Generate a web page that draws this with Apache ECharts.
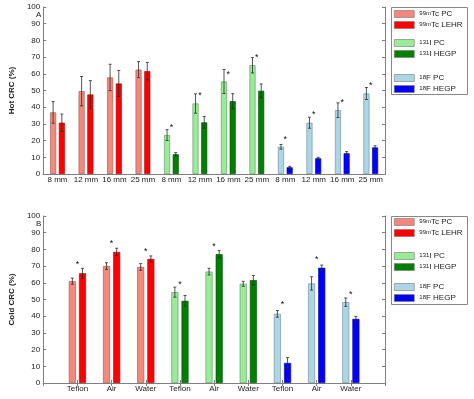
<!DOCTYPE html>
<html>
<head>
<meta charset="utf-8">
<script src="https://cdn.jsdelivr.net/npm/echarts@6/dist/echarts.min.js"></script>
<style>
  html, body { margin: 0; padding: 0; background: #fff; }
  #chart { width: 474px; height: 399px; }
</style>
</head>
<body>
<div id="chart"></div>
<script>
// categories
const hotCats = ['8 mm', '12 mm', '16 mm', '25 mm', '8 mm', '12 mm', '16 mm', '25 mm', '8 mm', '12 mm', '16 mm', '25 mm'];
const coldCats = ['', 'Teflon', 'Air', 'Water', 'Teflon', 'Air', 'Water', 'Teflon', 'Air', 'Water', ''];

// Hot CRC (%) - 8, 12, 16, 25 mm
const hotTcPC = [36.9, 49.6, 57.8, 62.5];
const hotTcPCErr = [6.5, 8.8, 7.9, 4.8];
const hotTcLEHR = [30.7, 47.6, 54.2, 61.6];
const hotTcLEHRErr = [5.2, 8.3, 7.8, 5.2];
const hotIPC = [23.3, 42.2, 55.4, 65.1];
const hotIPCErr = [3.2, 5.8, 7.2, 4.6];
const hotIHEGP = [11.8, 30.9, 43.6, 49.8];
const hotIHEGPErr = [1, 3.5, 4.5, 4.1];
const hotFPC = [16.3, 30.7, 38.2, 48.2];
const hotFPCErr = [1.4, 3.3, 4.4, 3.6];
const hotFHEGP = [4, 9.4, 12.4, 15.9];
const hotFHEGPErr = [0.6, 0.6, 1, 1];
const hotStars = [null, null, null, null, 29, 48, 61, 71, 22, 37, 44, 54];

// Cold CRC (%) - Teflon, Air, Water
const coldTcPC = [61, 70, 69.5];
const coldTcPCErr = [1.8, 2, 2];
const coldTcLEHR = [65.7, 78.5, 74.3];
const coldTcLEHRErr = [3, 2.2, 1.8];
const coldIPC = [54.4, 66.7, 59.4];
const coldIPCErr = [3, 2, 1.5];
const coldIHEGP = [49.2, 77.1, 61.6];
const coldIHEGPErr = [3.2, 2.2, 2.8];
const coldFPC = [41.4, 59.6, 48.4];
const coldFPCErr = [2, 4, 2.5];
const coldFHEGP = [12, 69, 38.4];
const coldFHEGPErr = [3.2, 1.6, 1.5];
const coldStars = [72, 85, 80, 60, 83, null, 48, 75, 54];

const yMin = 0, yMax = 100, yStep = 10;

const COL = {
  tcPC: '#f7877a', tcHi: '#ff0000',
  iPC: '#98ec98', iHi: '#007f00',
  fPC: '#acd6e4', fHi: '#0000ff'
};
const FONT = 'Liberation Sans';

function spread(vals, start, total) {
  const out = new Array(total).fill(null);
  vals.forEach((v, i) => { out[start + i] = v; });
  return out;
}
function errData(vals, errs, start) {
  return vals.map((v, i) => [start + i, v, errs[i]]);
}
function starData(vals, start) {
  return vals.map((v, i) => [start + i, v]).filter(d => d[1] != null);
}

function errRender(dx) {
  return function (params, api) {
    const c = api.value(0), v = api.value(1), e = api.value(2);
    const x = api.coord([c, v])[0] + dx;
    const y1 = api.coord([c, v - e])[1];
    const y2 = api.coord([c, v + e])[1];
    const st = { stroke: '#2a2a2a', lineWidth: 0.8 };
    return {
      type: 'group',
      children: [
        { type: 'line', shape: { x1: x, y1: y1, x2: x, y2: y2 }, style: st },
        { type: 'line', shape: { x1: x - 1.5, y1: y1, x2: x + 1.5, y2: y1 }, style: st },
        { type: 'line', shape: { x1: x - 1.5, y1: y2, x2: x + 1.5, y2: y2 }, style: st }
      ]
    };
  };
}
function starRender(params, api) {
  const p = api.coord([api.value(0), api.value(1)]);
  return {
    type: 'text',
    style: { text: '*', x: p[0], y: p[1] + 2, fontSize: 9, fill: '#111', align: 'center', verticalAlign: 'middle', fontFamily: FONT }
  };
}

const axisGrey = '#808080';
function xAxes(grid, data, gap) {
  const common = {
    type: 'category', gridIndex: grid, data: data, boundaryGap: gap,
    axisLine: { lineStyle: { color: axisGrey, width: 1 } },
    axisTick: { inside: true, length: 3, alignWithLabel: true, interval: 0, lineStyle: { color: axisGrey } }
  };
  return [
    Object.assign({}, common, {
      position: 'bottom',
      axisLabel: { interval: 0, fontSize: 8, color: '#222', margin: 2, fontFamily: FONT }
    }),
    Object.assign({}, common, { position: 'top', axisLabel: { show: false } })
  ];
}
function yAxes(grid, name) {
  const common = {
    type: 'value', gridIndex: grid, min: yMin, max: yMax, interval: yStep,
    splitLine: { show: false },
    axisLine: { show: true, lineStyle: { color: axisGrey, width: 1 } },
    axisTick: { show: true, inside: true, length: 3, lineStyle: { color: axisGrey } }
  };
  return [
    Object.assign({}, common, {
      position: 'left', name: name, nameLocation: 'middle', nameGap: 21,
      nameTextStyle: { fontSize: 8, fontWeight: 'bold', color: '#222', fontFamily: FONT },
      axisLabel: { fontSize: 8, color: '#222', margin: 3, fontFamily: FONT }
    }),
    Object.assign({}, common, { position: 'right', axisLabel: { show: false } })
  ];
}

function bar(name, data, stack, color, xi, yi, w, border) {
  return {
    name: name, type: 'bar', stack: stack, data: data, xAxisIndex: xi, yAxisIndex: yi,
    barWidth: w, barGap: '45%',
    itemStyle: { color: color, borderColor: border, borderWidth: 0.6 },
    z: 2
  };
}
function errSeries(data, dx, xi, yi) {
  return { type: 'custom', data: data, xAxisIndex: xi, yAxisIndex: yi, renderItem: errRender(dx), z: 5, silent: true };
}
function starSeries(data, xi, yi) {
  return { type: 'custom', data: data, xAxisIndex: xi, yAxisIndex: yi, renderItem: starRender, z: 6, silent: true };
}

const names = ['99mTc PC', '99mTc LEHR', '131I PC', '131I HEGP', '18F PC', '18F HEGP'];

function legend(pair, top) {
  return {
    data: pair, orient: 'vertical', left: 394, top: top,
    itemWidth: 20, itemHeight: 7, itemGap: 3, icon: 'rect', selectedMode: false,
    padding: 0,
    itemStyle: { borderColor: '#777', borderWidth: 0.6 },
    formatter: n => {
      const m = n.match(/^(\d+m?)(.*)$/);
      return '{s|' + m[1] + '}{t|' + m[2] + '}';
    },
    textStyle: {
      rich: {
        s: { fontSize: 6, lineHeight: 8, verticalAlign: 'top', color: '#222', fontFamily: FONT },
        t: { fontSize: 8, lineHeight: 8, color: '#222', fontFamily: FONT }
      }
    }
  };
}

const bwH = 6, bwC = 7;
const dxH = (bwH * 1.45) / 2, dxC = (bwC * 1.45) / 2;

const option = {
  animation: false,
  grid: [
    { left: 34, top: 7, width: 351, height: 167 },
    { left: 34, top: 216, width: 351, height: 167 }
  ],
  xAxis: [].concat(xAxes(0, hotCats, true), xAxes(1, coldCats, false)),
  yAxis: [].concat(yAxes(0, 'Hot CRC (%)'), yAxes(1, 'Cold CRC (%)')),
  legend: [
    legend(names.slice(0, 2), 10), legend(names.slice(2, 4), 39), legend(names.slice(4, 6), 74),
    legend(names.slice(0, 2), 218), legend(names.slice(2, 4), 252), legend(names.slice(4, 6), 283)
  ],
  graphic: [
    { type: 'rect', left: 391, top: 7, shape: { width: 76, height: 87 }, style: { fill: '#fff', stroke: '#888', lineWidth: 1 }, z: -1 },
    { type: 'rect', left: 391, top: 216, shape: { width: 76, height: 88 }, style: { fill: '#fff', stroke: '#888', lineWidth: 1 }, z: -1 },
    { type: 'text', left: 36, top: 11, style: { text: 'A', fontSize: 8, fill: '#222', fontFamily: FONT } },
    { type: 'text', left: 36, top: 220, style: { text: 'B', fontSize: 8, fill: '#222', fontFamily: FONT } }
  ],
  series: [
    bar(names[0], spread(hotTcPC, 0, 12), 'hp', COL.tcPC, 0, 0, bwH, '#8a5a55'),
    bar(names[1], spread(hotTcLEHR, 0, 12), 'hh', COL.tcHi, 0, 0, bwH, '#b00000'),
    bar(names[2], spread(hotIPC, 4, 12), 'hp', COL.iPC, 0, 0, bwH, '#5f8a5f'),
    bar(names[3], spread(hotIHEGP, 4, 12), 'hh', COL.iHi, 0, 0, bwH, '#004f00'),
    bar(names[4], spread(hotFPC, 8, 12), 'hp', COL.fPC, 0, 0, bwH, '#6f8890'),
    bar(names[5], spread(hotFHEGP, 8, 12), 'hh', COL.fHi, 0, 0, bwH, '#0000a0'),
    errSeries([].concat(errData(hotTcPC, hotTcPCErr, 0), errData(hotIPC, hotIPCErr, 4), errData(hotFPC, hotFPCErr, 8)), -dxH, 0, 0),
    errSeries([].concat(errData(hotTcLEHR, hotTcLEHRErr, 0), errData(hotIHEGP, hotIHEGPErr, 4), errData(hotFHEGP, hotFHEGPErr, 8)), dxH, 0, 0),
    starSeries(starData(hotStars, 0), 0, 0),

    bar(names[0], spread(coldTcPC, 1, 11), 'cp', COL.tcPC, 2, 2, bwC, '#8a5a55'),
    bar(names[1], spread(coldTcLEHR, 1, 11), 'ch', COL.tcHi, 2, 2, bwC, '#b00000'),
    bar(names[2], spread(coldIPC, 4, 11), 'cp', COL.iPC, 2, 2, bwC, '#5f8a5f'),
    bar(names[3], spread(coldIHEGP, 4, 11), 'ch', COL.iHi, 2, 2, bwC, '#004f00'),
    bar(names[4], spread(coldFPC, 7, 11), 'cp', COL.fPC, 2, 2, bwC, '#6f8890'),
    bar(names[5], spread(coldFHEGP, 7, 11), 'ch', COL.fHi, 2, 2, bwC, '#0000a0'),
    errSeries([].concat(errData(coldTcPC, coldTcPCErr, 1), errData(coldIPC, coldIPCErr, 4), errData(coldFPC, coldFPCErr, 7)), -dxC, 2, 2),
    errSeries([].concat(errData(coldTcLEHR, coldTcLEHRErr, 1), errData(coldIHEGP, coldIHEGPErr, 4), errData(coldFHEGP, coldFHEGPErr, 7)), dxC, 2, 2),
    starSeries(starData(coldStars, 1), 2, 2)
  ]
};

const chart = echarts.init(document.getElementById('chart'));
chart.setOption(option);
window.addEventListener('resize', () => chart.resize());
</script>
</body>
</html>
